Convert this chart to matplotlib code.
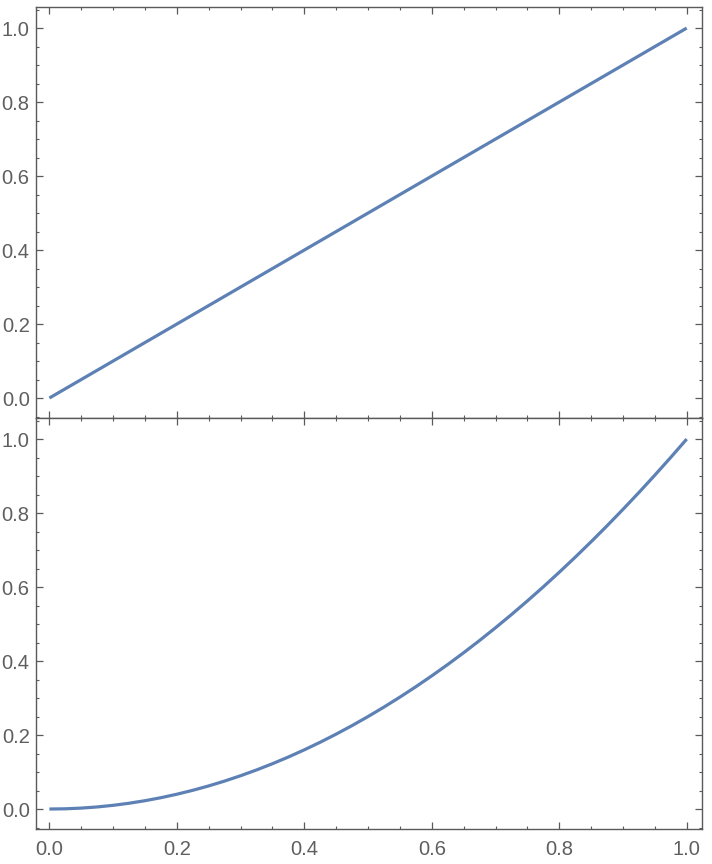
import matplotlib
matplotlib.use("Agg")
import matplotlib.pyplot as plt
from matplotlib.ticker import MultipleLocator, FormatStrFormatter

# Data
x_top = [0.0, 0.1, 0.2, 0.3, 0.4, 0.5, 0.6, 0.7, 0.8, 0.9, 1.0]
y_top = [0.0, 0.1, 0.2, 0.3, 0.4, 0.5, 0.6, 0.7, 0.8, 0.9, 1.0]
x_bot = [0.0, 0.025, 0.05, 0.075, 0.1, 0.125, 0.15, 0.175, 0.2, 0.225, 0.25,
         0.275, 0.3, 0.325, 0.35, 0.375, 0.4, 0.425, 0.45, 0.475, 0.5,
         0.525, 0.55, 0.575, 0.6, 0.625, 0.65, 0.675, 0.7, 0.725, 0.75,
         0.775, 0.8, 0.825, 0.85, 0.875, 0.9, 0.925, 0.95, 0.975, 1.0]
y_bot = [0.0, 0.0006, 0.0025, 0.0056, 0.01, 0.0156, 0.0225, 0.0306, 0.04, 0.0506, 0.0625,
         0.0756, 0.09, 0.1056, 0.1225, 0.1406, 0.16, 0.1806, 0.2025, 0.2256, 0.25,
         0.2756, 0.3025, 0.3306, 0.36, 0.3906, 0.4225, 0.4556, 0.49, 0.5256, 0.5625,
         0.6006, 0.64, 0.6806, 0.7225, 0.7656, 0.81, 0.8556, 0.9025, 0.9506, 1.0]

line_color = "#5E81B5"
frame_color = "#5a5a5a"
label_color = "#5f5f5f"

plt.rcParams['font.family'] = ['Liberation Sans', 'DejaVu Sans']

fig = plt.figure(figsize=(7.12, 8.64), dpi=100)
W, H = 712, 864
left, right = 36 / W, 702 / W
ax1 = fig.add_axes([left, 1 - 418 / H, right - left, (418 - 7) / H])
ax2 = fig.add_axes([left, 1 - 829 / H, right - left, (829 - 418) / H])

for ax, xs, ys in ((ax1, x_top, y_top), (ax2, x_bot, y_bot)):
    ax.plot(xs, ys, color=line_color, lw=2.3, solid_capstyle='butt',
            solid_joinstyle='round')
    ax.set_xlim(-0.021, 1.024)
    ax.set_ylim(-0.054, 1.057)
    ax.xaxis.set_major_locator(MultipleLocator(0.2))
    ax.xaxis.set_minor_locator(MultipleLocator(0.05))
    ax.yaxis.set_major_locator(MultipleLocator(0.2))
    ax.yaxis.set_minor_locator(MultipleLocator(0.05))
    ax.xaxis.set_major_formatter(FormatStrFormatter('%.1f'))
    ax.yaxis.set_major_formatter(FormatStrFormatter('%.1f'))
    ax.tick_params(which='both', direction='in', top=True, right=True,
                   color=frame_color, labelcolor=label_color, labelsize=14.5)
    ax.tick_params(which='major', length=5, width=0.9)
    ax.tick_params(which='minor', length=2.5, width=0.8)
    ax.tick_params(axis='y', pad=4.5)
    ax.tick_params(axis='x', pad=8)
    for s in ax.spines.values():
        s.set_color(frame_color)
        s.set_linewidth(1.0)

ax1.tick_params(labelbottom=False)

fig.savefig("out.png", dpi=100)
